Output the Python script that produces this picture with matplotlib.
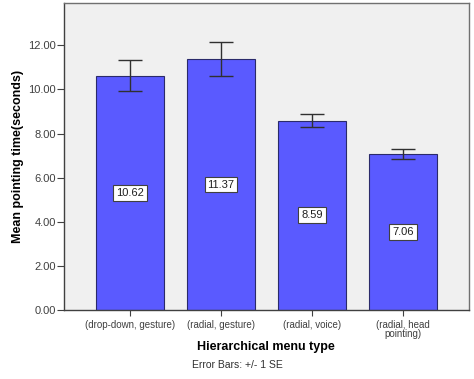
import matplotlib
matplotlib.use("Agg")
import matplotlib.pyplot as plt
import numpy as np

plt.rcParams['font.family'] = ['Liberation Sans', 'DejaVu Sans']

# data
categories = ["(drop-down, gesture)", "(radial, gesture)", "(radial, voice)", "(radial, head\npointing)"]
means = [10.62, 11.37, 8.59, 7.06]
se = [0.70, 0.77, 0.30, 0.22]
yticks = [0, 2, 4, 6, 8, 10, 12]

fig = plt.figure(figsize=(4.74, 3.79), dpi=100)
ax = fig.add_axes([64 / 474, 1 - 310 / 379, 405 / 474, 307 / 379])
ax.set_facecolor("#f0f0f0")

x = np.arange(len(categories))
ax.bar(x, means, width=0.75, color="#5a5aff", edgecolor="#2a2a6a", linewidth=0.8, zorder=2)
ax.errorbar(x, means, yerr=se, fmt="none", ecolor="#303030", elinewidth=1.0,
            capsize=8.3, capthick=1.0, zorder=3)

for xi, m in zip(x, means):
    ax.text(xi, m / 2, f"{m:.2f}", ha="center", va="center", fontsize=8, color="#202020",
            bbox=dict(boxstyle="square,pad=0.25", fc="white", ec="#404040", lw=0.8), zorder=4)

ax.set_xlim(-0.725, 3.725)
ax.set_ylim(0, 13.92)
ax.set_yticks(yticks)
ax.set_yticklabels([f"{t:.2f}" for t in yticks], fontsize=8, color="#404040")
ax.set_xticks(x)
ax.set_xticklabels(categories, fontsize=7, color="#404040", linespacing=0.95)
ax.tick_params(axis="y", length=5, width=0.8, color="#404040", pad=1)
ax.tick_params(axis="x", length=4, width=0.8, color="#404040", pad=3)
for s in ax.spines.values():
    s.set_color("#707070")
    s.set_linewidth(1.0)
ax.spines["left"].set_color("#404040")
ax.spines["bottom"].set_color("#404040")

ax.set_ylabel("Mean pointing time(seconds)", fontsize=9, fontweight="bold", labelpad=3)
fig.text(266 / 474, 1 - 347 / 379, "Hierarchical menu type", ha="center", va="center",
         fontsize=9, fontweight="bold")
fig.text(237 / 474, 1 - 365 / 379, "Error Bars: +/- 1 SE", ha="center", va="center",
         fontsize=7.5, color="#303030")

fig.savefig("out.png", dpi=100, facecolor="white")
